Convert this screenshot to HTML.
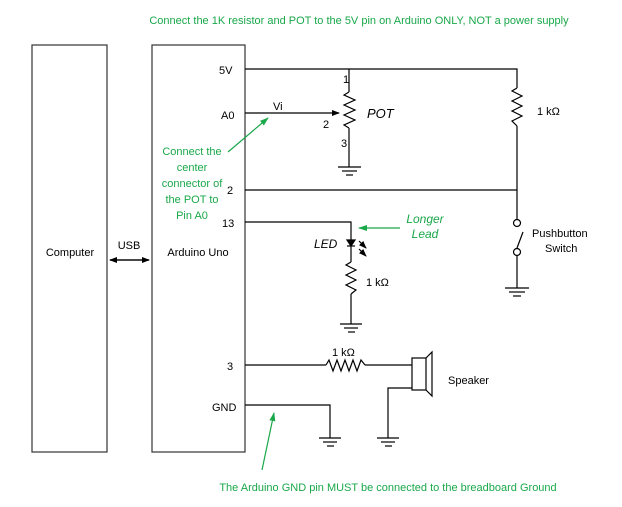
<!DOCTYPE html>
<html><head><style>
html,body{margin:0;padding:0;background:#fff;}
svg{display:block;}
text{font-family:"Liberation Sans",sans-serif;font-size:11px;fill:#000;}
.g{fill:#1aa84a;}
</style></head><body>
<svg width="622" height="507" viewBox="0 0 622 507" xmlns="http://www.w3.org/2000/svg">
<defs>
<marker id="ab" markerWidth="8" markerHeight="8" refX="7" refY="4" orient="auto" markerUnits="userSpaceOnUse"><path d="M0,1 L8,4 L0,7 Z" fill="#000"/></marker>
<marker id="ag" markerWidth="9" markerHeight="8" refX="8" refY="4" orient="auto" markerUnits="userSpaceOnUse"><path d="M0,1 L9,4 L0,7 Z" fill="#1aa84a"/></marker>
</defs>
<g stroke="#000" stroke-width="1.2" fill="none">
<rect x="32" y="45" width="75" height="407" stroke="#333"/>
<rect x="152" y="45" width="93" height="407" stroke="#333"/>
<line x1="110" y1="260" x2="149" y2="260" marker-end="url(#ab)"/>
<line x1="149" y1="260" x2="110" y2="260" marker-end="url(#ab)"/>
<polyline points="245,69 517,69 517,88"/>
<polyline points="517,88 512,91 522,96 512,101 522,106 512,111 522,116 512,121 517,126"/>
<line x1="517" y1="126" x2="517" y2="219"/>
<line x1="245" y1="190" x2="517" y2="190"/>
<circle cx="517" cy="223" r="3.5"/>
<circle cx="517" cy="252" r="3.5"/>
<line x1="517" y1="248" x2="523" y2="232"/>
<line x1="517" y1="256" x2="517" y2="288"/>
<line x1="505" y1="288" x2="529" y2="288"/><line x1="509" y1="292" x2="525" y2="292"/><line x1="513" y1="296" x2="521" y2="296"/>
<line x1="349" y1="69" x2="349" y2="92"/>
<polyline points="349,92 344,95 355,100 344,105 355,110 344,115 355,120 344,125 349,128"/>
<line x1="349" y1="128" x2="349" y2="167"/>
<line x1="338" y1="167" x2="361" y2="167"/><line x1="342" y1="171" x2="357" y2="171"/><line x1="346" y1="175" x2="353" y2="175"/>
<line x1="245" y1="113" x2="339" y2="113" marker-end="url(#ab)"/>
<polyline points="245,222 351,222 351,262"/>
<path d="M347,240 L355,240 L351,246 Z" fill="#000"/>
<line x1="347" y1="246" x2="355" y2="246"/>
<line x1="359" y1="241" x2="366" y2="248" marker-end="url(#ab)"/>
<line x1="359" y1="249" x2="366" y2="256" marker-end="url(#ab)"/>
<polyline points="351,262 346,265 356,270 346,275 356,280 346,285 356,290 351,294"/>
<line x1="351" y1="294" x2="351" y2="324"/>
<line x1="340" y1="324" x2="362" y2="324"/><line x1="344" y1="328" x2="358" y2="328"/><line x1="348" y1="332" x2="355" y2="332"/>
<line x1="245" y1="365" x2="326" y2="365"/>
<polyline points="326,365 329,360 333,371 337,360 341,371 345,360 349,371 353,360 357,371 361,360 365,365"/>
<line x1="365" y1="365" x2="412" y2="365"/>
<rect x="412" y="358" width="14" height="32"/>
<polyline points="426,358 432,352 432,396 426,390"/>
<polyline points="412,388 388,388 388,438"/>
<line x1="377" y1="438" x2="399" y2="438"/><line x1="381" y1="442" x2="395" y2="442"/><line x1="385" y1="446" x2="392" y2="446"/>
<polyline points="245,405 330,405 330,438"/>
<line x1="319" y1="438" x2="341" y2="438"/><line x1="323" y1="442" x2="337" y2="442"/><line x1="327" y1="446" x2="334" y2="446"/>
</g>
<g stroke="#1aa84a" stroke-width="1.2">
<line x1="228" y1="152" x2="268" y2="118" marker-end="url(#ag)"/>
<line x1="400" y1="228" x2="359" y2="228" marker-end="url(#ag)"/>
<line x1="262" y1="470" x2="274" y2="413" marker-end="url(#ag)"/>
</g>
<text x="70" y="256" text-anchor="middle">Computer</text>
<text x="129" y="249" text-anchor="middle">USB</text>
<text x="198" y="256" text-anchor="middle">Arduino Uno</text>
<text x="219" y="74">5V</text>
<text x="221" y="119">A0</text>
<text x="227" y="194">2</text>
<text x="222" y="227">13</text>
<text x="227" y="370">3</text>
<text x="212" y="411">GND</text>
<text x="273" y="110">Vi</text>
<text x="343" y="83">1</text>
<text x="323" y="128">2</text>
<text x="341" y="147">3</text>
<text x="367" y="118" style="font-style:italic;font-size:13px">POT</text>
<text x="537" y="115">1 kΩ</text>
<text x="532" y="237">Pushbutton</text>
<text x="545" y="252">Switch</text>
<text x="314" y="248" style="font-style:italic;font-size:12px">LED</text>
<text x="366" y="286">1 kΩ</text>
<text x="332" y="356">1 kΩ</text>
<text x="448" y="384">Speaker</text>
<text class="g" x="425" y="223" text-anchor="middle" style="font-style:italic;font-size:12px">Longer</text>
<text class="g" x="425" y="238" text-anchor="middle" style="font-style:italic;font-size:12px">Lead</text>
<text class="g" x="192" y="155" text-anchor="middle">Connect the</text>
<text class="g" x="192" y="171" text-anchor="middle">center</text>
<text class="g" x="192" y="187" text-anchor="middle">connector of</text>
<text class="g" x="192" y="203" text-anchor="middle">the POT to</text>
<text class="g" x="192" y="219" text-anchor="middle">Pin A0</text>
<text class="g" x="359" y="24" text-anchor="middle">Connect the 1K resistor and POT to the 5V pin on Arduino ONLY, NOT a power supply</text>
<text class="g" x="388" y="491" text-anchor="middle">The Arduino GND pin MUST be connected to the breadboard Ground</text>
</svg>
</body></html>
